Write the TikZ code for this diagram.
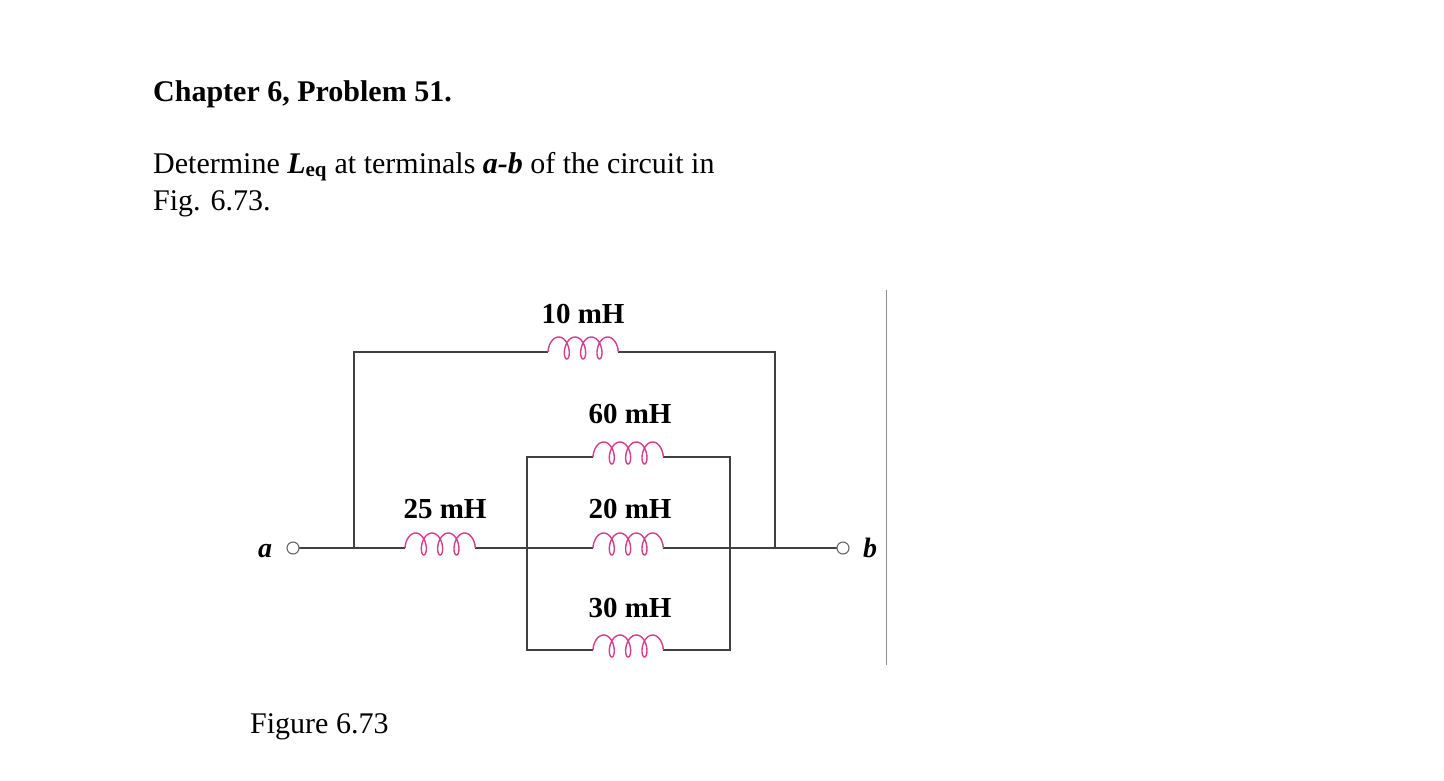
\documentclass[tikz,border=0pt]{standalone}
\usepackage{fontspec}
\setmainfont{Liberation Serif}
\begin{document}
\begin{tikzpicture}[x=1pt,y=-1pt,
  wire/.style={draw=black!75,line width=1.3pt},
  coilline/.style={draw=magenta!70!purple!90!red,line width=1.4pt},
  lbl/.style={font=\fontsize{29}{34}\selectfont\bfseries,anchor=base},
  txt/.style={font=\fontsize{30}{36}\selectfont,anchor=base west,inner sep=0},
  term/.style={circle,draw=black!60,line width=1.1pt,fill=white,minimum size=12pt,inner sep=0}]
\useasboundingbox (0,0) rectangle (1444,780);
\definecolor{coilc}{RGB}{214,62,140}
\newcommand{\coilat}[2]{%
  \draw[draw=coilc,line width=1.4pt,smooth,samples=140,domain=-5.084:17.651]
   plot ({#1+2.6*(\x+5.084)-6*(sin(\x r)-0.932)},{#2-(4-11*cos(\x r))});}
\node[txt,font=\fontsize{30}{36}\selectfont\bfseries] (title) at (153,101) {Chapter 6, Problem 51.};
\node[txt] (l1) at (153,173) {Determine \textbf{\textit{L}}\textsubscript{\textbf{eq}} at terminals \textbf{\textit{a-b}} of the circuit in};
\node[txt] (l2) at (153,210) {Fig. 6.73.};
\node[txt] (fig) at (250,733) {Figure 6.73};
\draw[black!45,line width=1pt] (886,290) -- (886,665);
% coordinates
\coordinate (A) at (293,548);
\coordinate (B) at (843,548);
\coordinate (OL) at (354,548); \coordinate (OR) at (775,548);
\coordinate (OLT) at (354,352); \coordinate (ORT) at (775,352);
\coordinate (J1) at (527,548); \coordinate (J2) at (730,548);
\coordinate (J1T) at (527,457); \coordinate (J2T) at (730,457);
\coordinate (J1B) at (527,650); \coordinate (J2B) at (730,650);
% wires
\draw[wire] (A) -- (OL) -- (405,548);
\draw[wire] (475,548) -- (J1) -- (593,548);
\draw[wire] (663,548) -- (J2) -- (OR) -- (B);
\draw[wire] (OL) -- (OLT) -- (548,352);
\draw[wire] (618,352) -- (ORT) -- (OR);
\draw[wire] (J1) -- (J1T) -- (593,457);
\draw[wire] (663,457) -- (J2T) -- (J2);
\draw[wire] (J1) -- (J1B) -- (593,650);
\draw[wire] (663,650) -- (J2B) -- (J2);
\coilat{405}{548}
\coilat{548}{352}
\coilat{593}{457}
\coilat{593}{548}
\coilat{593}{650}
\node[term] (ta) at (A) {};
\node[term] (tb) at (B) {};
\node[lbl,font=\fontsize{28}{34}\selectfont\bfseries\itshape] (la) at (265,557) {a};
\node[lbl,font=\fontsize{28}{34}\selectfont\bfseries\itshape] (lb) at (870,557) {b};
\node[lbl] (n10) at (583,323) {10 mH};
\node[lbl] (n25) at (445,518) {25 mH};
\node[lbl] (n60) at (630,423) {60 mH};
\node[lbl] (n20) at (630,518) {20 mH};
\node[lbl] (n30) at (630,617) {30 mH};
\end{tikzpicture}
\end{document}
